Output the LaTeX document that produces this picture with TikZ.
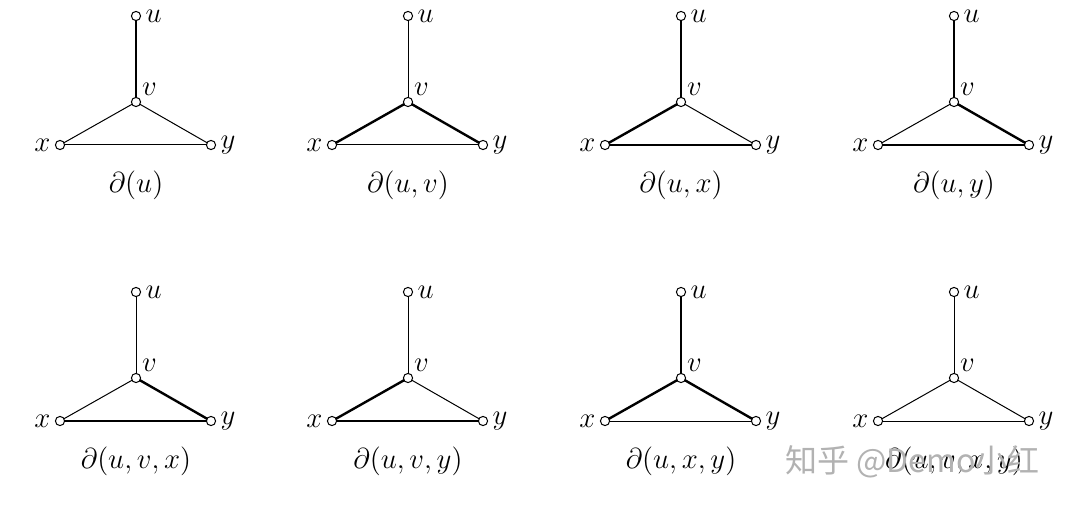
\documentclass[tikz,border=0pt]{standalone}
\usepackage{fontspec}
\newfontfamily\cjk{Noto Sans CJK SC}
\begin{document}
\begin{tikzpicture}[x=0.5pt,y=-0.5pt,
  vert/.style={circle,draw,fill=white,line width=0.5pt,inner sep=0pt,minimum size=4.6pt},
  ethin/.style={line width=0.5pt},
  ebold/.style={line width=1.2pt},
  lab/.style={font=\fontsize{14.5}{17}\selectfont,inner sep=1pt},
  captxt/.style={font=\fontsize{14.5}{17}\selectfont,inner sep=0pt},
  wm/.style={font=\cjk\fontsize{16}{18}\selectfont,text=black!30,inner sep=0pt}]
\useasboundingbox (0,0) rectangle (1066,508);
\newcommand\drawpanel[8]{%
  \coordinate (#1u) at (#2,#3);
  \coordinate (#1v) at (#2,#3+86);
  \coordinate (#1x) at (#2-76,#3+129);
  \coordinate (#1y) at (#2+75,#3+129);
  \draw[#4] (#1u) -- (#1v);
  \draw[#5] (#1v) -- (#1x);
  \draw[#6] (#1v) -- (#1y);
  \draw[#7] (#1x) -- (#1y);
  \node[vert,label={[lab,label distance=1pt]right:$u$}] (#1nu) at (#1u) {};
  \node[vert,label={[lab,label distance=0pt]above right:$v$}] (#1nv) at (#1v) {};
  \node[vert,label={[lab,label distance=1pt]left:$x$}] (#1nx) at (#1x) {};
  \node[vert,label={[lab,label distance=1pt]right:$y$}] (#1ny) at (#1y) {};
  \node[captxt] (#1c) at (#2,#3+169) {$#8$};
}
\drawpanel{a}{136}{16}{ebold}{ethin}{ethin}{ethin}{\partial(u)}
\drawpanel{b}{408}{16}{ethin}{ebold}{ebold}{ethin}{\partial(u,v)}
\drawpanel{c}{681}{16}{ebold}{ebold}{ethin}{ebold}{\partial(u,x)}
\drawpanel{d}{954}{16}{ebold}{ethin}{ebold}{ebold}{\partial(u,y)}
\drawpanel{e}{136}{292}{ethin}{ethin}{ebold}{ebold}{\partial(u,v,x)}
\drawpanel{f}{408}{292}{ethin}{ebold}{ethin}{ebold}{\partial(u,v,y)}
\drawpanel{g}{681}{292}{ebold}{ebold}{ebold}{ethin}{\partial(u,x,y)}
\drawpanel{h}{954}{292}{ethin}{ethin}{ethin}{ethin}{\partial(u,v,x,y)}
\node[wm,anchor=west] (wmark) at (785,462) {知乎 @Demo小红};
\end{tikzpicture}
\end{document}
